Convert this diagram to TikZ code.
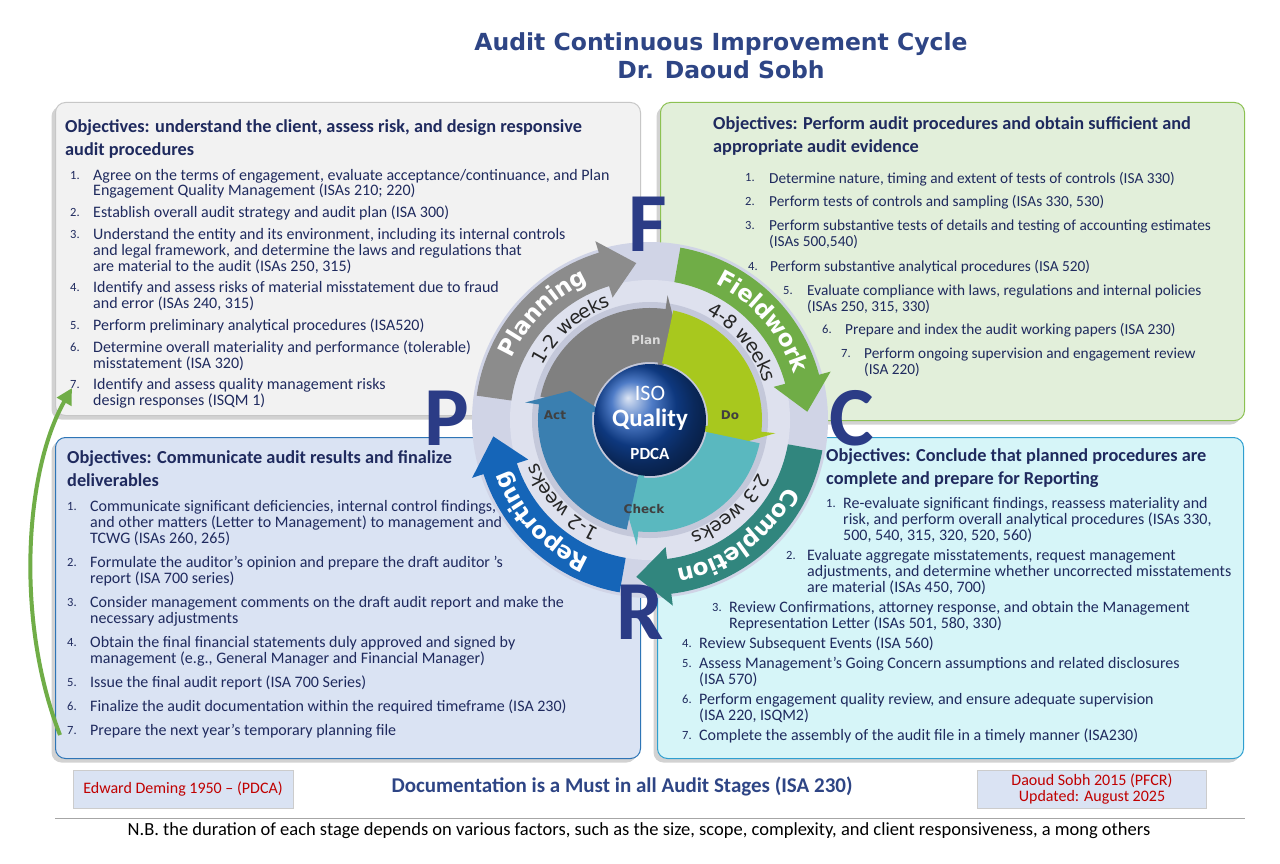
\documentclass[tikz,border=0pt]{standalone}
\usepackage{fontspec}
\setmainfont{Carlito}
\newfontfamily\dv{DejaVu Sans}
\usetikzlibrary{shadows,decorations.text,arrows.meta}
\definecolor{navy}{HTML}{1F2A5E}
\definecolor{ttl}{HTML}{2E4585}
\definecolor{bigl}{HTML}{2B3C86}
\definecolor{dred}{HTML}{C00000}
\definecolor{halo1}{RGB}{208,212,230}
\definecolor{halo2}{RGB}{222,225,238}
\definecolor{halo3}{RGB}{196,200,218}
\definecolor{cfield}{RGB}{112,173,71}
\definecolor{ccomp}{RGB}{49,134,126}
\definecolor{crep}{RGB}{21,101,184}
\definecolor{cdo}{RGB}{168,200,30}
\definecolor{ccheck}{RGB}{90,184,191}
\definecolor{cact}{RGB}{58,127,176}
\definecolor{cball}{RGB}{20,80,180}
\definecolor{f2}{RGB}{226,239,218}
\definecolor{f3}{RGB}{218,227,243}
\definecolor{d3}{RGB}{46,117,182}
\definecolor{f4}{RGB}{214,245,248}
\definecolor{d4}{RGB}{46,159,208}
\definecolor{d2}{RGB}{140,193,82}
\newcommand\bsz{16}
\tikzset{
 bx/.style={rounded corners=10pt,line width=1pt,drop shadow={shadow xshift=-4pt,shadow yshift=-4pt,opacity=.35}},
 tl/.style={anchor=base west,inner sep=0,font=\fontsize{\bsz}{18}\selectfont,text=navy},
 hd/.style={anchor=base west,inner sep=0,font=\fontsize{18.3}{20}\selectfont\bfseries,text=navy},
 nm/.style={anchor=base west,inner sep=0,font=\fontsize{12.5}{14}\selectfont,text=navy},
 big/.style={inner sep=0,font=\fontsize{84}{84}\selectfont\bfseries,text=bigl},
}
\newcommand\tx[3]{\node[tl] at (#1,-#2-5) {#3};}
\newcommand\hx[3]{\node[hd] at (#1,-#2-6) {#3};}
\newcommand\nx[3]{\node[nm] at (#1,-#2-4) {#3.};}
\newcommand\arcarr[6]{%
 \fill[#6] (#1:#4) arc[start angle=#1,end angle=#2+12,radius=#4pt]
   -- ({#2+12}:{#4+#5}) -- (#2:{(#3+#4)/2}) -- ({#2+12}:{#3-#5}) -- ({#2+12}:#3)
   arc[start angle=#2+12,end angle=#1,radius=#3pt] -- cycle;}
\newcommand\ringtxt[4]{%
 \path[decorate,decoration={text along path,text align=center,raise=-6pt,text={#4}}]
  (#1:#3) arc[start angle=#1,end angle=#2,radius=#3pt];}
\begin{document}
\begin{tikzpicture}[x=1pt,y=1pt]
\useasboundingbox (0,0) rectangle (1280,-864);
\fill[white] (0,0) rectangle (1280,-864);
\node[font=\dv\fontsize{23.5}{28}\selectfont\bfseries,text=ttl,align=center] (title) at (721,-56) {Audit Continuous Improvement Cycle\\Dr. Daoud Sobh};
\node[bx,draw=black!22,fill=black!5,minimum width=585pt,minimum height=313pt,anchor=north west] (b1) at (55,-102) {};
\node[bx,draw=d2,fill=f2,minimum width=584pt,minimum height=318pt,anchor=north west] (b2) at (660,-102) {};
\node[bx,draw=d3,fill=f3,minimum width=585pt,minimum height=321pt,anchor=north west] (b3) at (55,-437) {};
\node[bx,draw=d4,fill=f4,minimum width=586pt,minimum height=321pt,anchor=north west] (b4) at (657,-437) {};
% box1
\hx{65}{127}{Objectives: understand the client, assess risk, and design responsive}
\hx{65}{150}{audit procedures}
\nx{70}{175}{1}\tx{93}{175}{Agree on the terms of engagement, evaluate acceptance/continuance, and Plan}
\tx{93}{191}{Engagement Quality Management (ISAs 210; 220)}
\nx{70}{212}{2}\tx{93}{212}{Establish overall audit strategy and audit plan (ISA 300)}
\nx{70}{234}{3}\tx{93}{234}{Understand the entity and its environment, including its internal controls}
\tx{93}{250}{and legal framework, and determine the laws and regulations that}
\tx{93}{266}{are material to the audit (ISAs 250, 315)}
\nx{70}{287}{4}\tx{93}{287}{Identify and assess risks of material misstatement due to fraud}
\tx{93}{303}{and error (ISAs 240, 315)}
\nx{70}{325}{5}\tx{93}{325}{Perform preliminary analytical procedures (ISA520)}
\nx{70}{347}{6}\tx{93}{347}{Determine overall materiality and performance (tolerable)}
\tx{93}{363}{misstatement (ISA 320)}
\nx{70}{384}{7}\tx{93}{384}{Identify and assess quality management risks}
\tx{93}{400}{design responses (ISQM 1)}
% box2
\renewcommand\bsz{15.3}
\hx{713}{124}{Objectives: Perform audit procedures and obtain sufficient and}
\hx{713}{147}{appropriate audit evidence}
\nx{745}{178}{1}\tx{769}{178}{Determine nature, timing and extent of tests of controls (ISA 330)}
\nx{745}{201}{2}\tx{769}{201}{Perform tests of controls and sampling (ISAs 330, 530)}
\nx{745}{225}{3}\tx{769}{225}{Perform substantive tests of details and testing of accounting estimates}
\tx{769}{241}{(ISAs 500,540)}
\nx{748}{266}{4}\tx{770}{266}{Perform substantive analytical procedures (ISA 520)}
\nx{783}{290}{5}\tx{807}{290}{Evaluate compliance with laws, regulations and internal policies}
\tx{807}{306}{(ISAs 250, 315, 330)}
\nx{822}{329}{6}\tx{845}{329}{Prepare and index the audit working papers (ISA 230)}
\nx{841}{353}{7}\tx{864}{353}{Perform ongoing supervision and engagement review}
\tx{864}{369}{(ISA 220)}
% box3
\renewcommand\bsz{16}
\hx{67}{457}{Objectives: Communicate audit results and finalize}
\hx{67}{480}{deliverables}
\nx{67}{506}{1}\tx{90}{506}{Communicate significant deficiencies, internal control findings,}
\tx{90}{522}{and other matters (Letter to Management) to management and}
\tx{90}{538}{TCWG (ISAs 260, 265)}
\nx{67}{562}{2}\tx{90}{562}{Formulate the auditor’s opinion and prepare the draft auditor ’s}
\tx{90}{578}{report (ISA 700 series)}
\nx{67}{602}{3}\tx{90}{602}{Consider management comments on the draft audit report and make the}
\tx{90}{618}{necessary adjustments}
\nx{67}{642}{4}\tx{90}{642}{Obtain the final financial statements duly approved and signed by}
\tx{90}{658}{management (e.g., General Manager and Financial Manager)}
\nx{67}{682}{5}\tx{90}{682}{Issue the final audit report (ISA 700 Series)}
\nx{67}{706}{6}\tx{90}{706}{Finalize the audit documentation within the required timeframe (ISA 230)}
\nx{67}{730}{7}\tx{90}{730}{Prepare the next year's temporary planning file}
% box4
\hx{826}{455}{Objectives: Conclude that planned procedures are}
\hx{826}{478}{complete and prepare for Reporting}
\nx{826}{503}{1}\tx{843}{503}{Re-evaluate significant findings, reassess materiality and}
\tx{843}{519}{risk, and perform overall analytical procedures (ISAs 330,}
\tx{843}{535}{500, 540, 315, 320, 520, 560)}
\nx{786}{555}{2}\tx{807}{555}{Evaluate aggregate misstatements, request management}
\tx{807}{571}{adjustments, and determine whether uncorrected misstatements}
\tx{807}{587}{are material (ISAs 450, 700)}
\nx{712}{607}{3}\tx{729}{607}{Review Confirmations, attorney response, and obtain the Management}
\tx{729}{623}{Representation Letter (ISAs 501, 580,  330)}
\nx{682}{643}{4}\tx{699}{643}{Review Subsequent Events (ISA  560)}
\nx{682}{663}{5}\tx{699}{663}{Assess Management’s Going Concern assumptions and related disclosures}
\tx{699}{679}{(ISA 570)}
\nx{682}{699}{6}\tx{699}{699}{Perform engagement quality review, and ensure adequate supervision}
\tx{699}{715}{(ISA 220, ISQM2)}
\nx{682}{735}{7}\tx{699}{735}{Complete the assembly of the audit file in a timely manner (ISA230)}
% green return arrow
\coordinate (ga) at (60,-735);
\coordinate (gb) at (72,-388);
\draw[line width=4pt,cfield,-{Triangle[length=16pt,width=16pt]}] (ga) .. controls (15,-620) and (25,-470) .. (gb);
% cycle
\begin{scope}[shift={(650,-420)}]
 \fill[halo1] (0,0) circle[radius=178pt];
 \fill[halo2] (0,0) circle[radius=140pt];
 \fill[halo3] (0,0) circle[radius=118pt];
 \arcarr{172}{95}{140}{175}{12}{black!45}
 \arcarr{80}{3}{140}{175}{12}{cfield}
 \arcarr{-10}{-95}{140}{175}{12}{ccomp}
 \arcarr{-100}{-174}{140}{175}{12}{crep}
 \arcarr{168}{70}{58}{112}{14}{black!50}
 \arcarr{78}{-18}{58}{112}{14}{cdo}
 \arcarr{-12}{-108}{58}{112}{14}{ccheck}
 \arcarr{-102}{-200}{58}{112}{14}{cact}
 \ringtxt{172}{98}{157}{|\dv\fontsize{23}{24}\selectfont\bfseries\color{white}|Planning}
 \ringtxt{80}{2}{157}{|\dv\fontsize{23}{24}\selectfont\bfseries\color{white}|Fieldwork}
 \ringtxt{-6}{-100}{157}{|\dv\fontsize{23}{24}\selectfont\bfseries\color{white}|Completion}
 \ringtxt{-96}{-178}{157}{|\dv\fontsize{23}{24}\selectfont\bfseries\color{white}|Reporting}
 \ringtxt{170}{92}{126}{|\dv\fontsize{19}{20}\selectfont\color{black!85}|1-2 weeks}
 \ringtxt{84}{-4}{126}{|\dv\fontsize{19}{20}\selectfont\color{black!85}|4-8 weeks}
 \ringtxt{-4}{-92}{126}{|\dv\fontsize{19}{20}\selectfont\color{black!85}|2-3 weeks}
 \ringtxt{-96}{-178}{126}{|\dv\fontsize{19}{20}\selectfont\color{black!85}|1-2 weeks}
 \node[font=\dv\fontsize{12}{12}\selectfont\bfseries,text=black!15] (plan) at (-4,80) {Plan};
 \node[font=\dv\fontsize{12}{12}\selectfont\bfseries,text=black!75] (do) at (80,5) {Do};
 \node[font=\dv\fontsize{12}{12}\selectfont\bfseries,text=black!75] (check) at (-6,-89) {Check};
 \node[font=\dv\fontsize{12}{12}\selectfont\bfseries,text=black!75] (act) at (-95,5) {Act};
 \shade[ball color=cball] (0,0) circle[radius=56pt];
 \node[text=white,font=\fontsize{22}{24}\selectfont] (iso) at (0,27) {ISO};
 \node[text=white,font=\fontsize{25}{26}\selectfont\bfseries] (qual) at (0,0) {Quality};
 \node[text=white,font=\fontsize{17}{18}\selectfont\bfseries] (pdca) at (0,-34) {PDCA};
\end{scope}
\node[big] (F) at (648,-224) {F};
\node[big] (P) at (447,-418) {P};
\node[big] (C) at (852,-418) {C};
\node[big] (R) at (640,-612) {R};
\node[draw=black!20,fill=f3,minimum width=220pt,minimum height=38pt,text=dred,font=\fontsize{16}{18}\selectfont] (dem) at (183,-789) {Edward Deming 1950 – (PDCA)};
\node[text=ttl,font=\fontsize{21}{24}\selectfont\bfseries] (doc) at (622,-786) {Documentation is a Must in all Audit Stages (ISA 230)};
\node[draw=black!20,fill=f3,minimum width=229pt,minimum height=38pt,text=dred,align=center,font=\fontsize{16}{16}\selectfont] (pfcr) at (1092,-789) {Daoud Sobh 2015 (PFCR)\\Updated: August 2025};
\draw[black!35] (55,-818) -- (1245,-818);
\node[font=\fontsize{18.5}{20}\selectfont] (nb) at (639,-831) {N.B. the duration of each stage depends on various factors, such as the size, scope, complexity, and client responsiveness, a  mong others};
\end{tikzpicture}
\end{document}
